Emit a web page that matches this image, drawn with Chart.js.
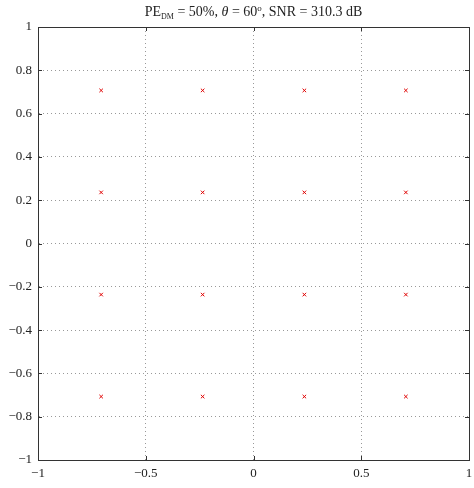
<!DOCTYPE html><html><head><script src="https://cdn.jsdelivr.net/npm/chart.js@4"></script>
<style>body{margin:0;background:#fff}#w{width:474px;height:488px}</style></head><body><div id="w"><canvas id="c"></canvas></div>
<script>
const xs=[-0.707,-0.236,0.236,0.707];
const ys=[0.707,0.236,-0.236,-0.707];
const xTicks=[-1,-0.5,0,0.5,1];
const yTicks=[1,0.8,0.6,0.4,0.2,0,-0.2,-0.4,-0.6,-0.8,-1];
const pts=[];ys.forEach(y=>xs.forEach(x=>pts.push({x,y})));
const F='"Liberation Serif", serif';
const fmt=v=>v<0?'\u2212'+String(-v):String(v);
const titlePlugin={id:'t',afterDraw(c){const g=c.ctx;g.save();g.fillStyle='#222';g.textBaseline='alphabetic';
 const parts=[['PE','14px',0],['DM','8px',3],[' = 50%, ','14px',0],['\u03B8','italic 14px',0],[' = 60','14px',0],['o','9px',-5],[', SNR = 310.3 dB','14px',0]];
 let w=0;parts.forEach(p=>{g.font=p[1]+' '+F;w+=g.measureText(p[0]).width});
 let x=(c.chartArea.left+c.chartArea.right)/2-w/2;const y=16;
 parts.forEach(p=>{g.font=p[1]+' '+F;g.fillText(p[0],x,y+p[2]);x+=g.measureText(p[0]).width});
 const a=c.chartArea,sx=c.scales.x,sy=c.scales.y;g.strokeStyle='#333';g.lineWidth=1;g.beginPath();
 xTicks.forEach(v=>{const p=Math.round(sx.getPixelForValue(v))+.5;g.moveTo(p,a.bottom);g.lineTo(p,a.bottom-4);g.moveTo(p,a.top);g.lineTo(p,a.top+4)});
 yTicks.forEach(v=>{const p=Math.round(sy.getPixelForValue(v))+.5;g.moveTo(a.left,p);g.lineTo(a.left+4,p);g.moveTo(a.right,p);g.lineTo(a.right-4,p)});
 g.stroke();g.restore();}};
new Chart(document.getElementById('c'),{type:'scatter',data:{datasets:[{data:pts,pointStyle:'cross',rotation:45,radius:2.5,borderColor:'#e00000',borderWidth:1,backgroundColor:'#e00000'}]},
options:{responsive:true,maintainAspectRatio:false,animation:false,layout:{padding:{top:27,right:0}},
plugins:{legend:{display:false},tooltip:{enabled:false}},
scales:{
x:{min:-1,max:1,afterBuildTicks(s){s.ticks=xTicks.map(v=>({value:v}))},afterFit(s){s.height=28;s.paddingRight=2},
 ticks:{color:'#222',font:{family:F,size:13},padding:6,callback:fmt,maxRotation:0},
 grid:{color:'#999',drawTicks:false,lineWidth:1},border:{display:true,color:'#333',dash:[1,3]}},
y:{min:-1,max:1,afterBuildTicks(s){s.ticks=yTicks.map(v=>({value:v}))},afterFit(s){s.width=38},
 ticks:{color:'#222',font:{family:F,size:13},padding:6,callback:fmt},
 grid:{color:'#999',drawTicks:false,lineWidth:1},border:{display:true,color:'#333',dash:[1,3]}}
}},plugins:[titlePlugin,{id:'frame',afterDraw(c){const a=c.chartArea,g=c.ctx;g.save();g.strokeStyle='#333';g.lineWidth=1;g.strokeRect(Math.round(a.left)+.5,Math.round(a.top)+.5,Math.round(a.width),Math.round(a.height));g.restore();}}]});
</script></body></html>
